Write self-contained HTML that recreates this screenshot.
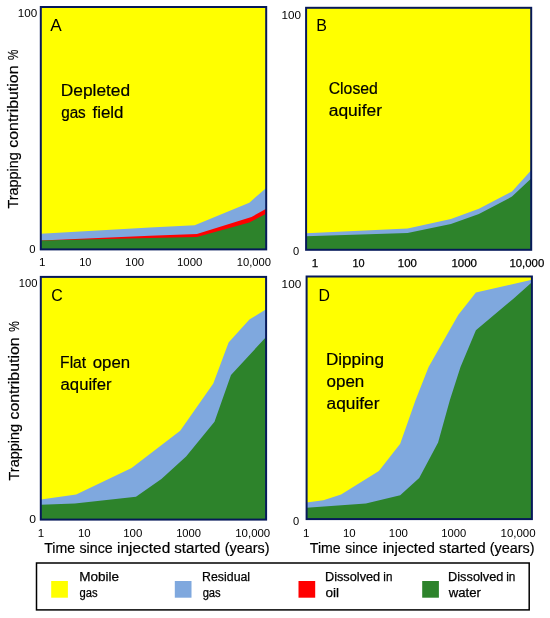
<!DOCTYPE html>
<html lang="en"><head><meta charset="utf-8"><title>Trapping contribution over time</title>
<style>
html,body{margin:0;padding:0;background:#fff;}
svg{display:block;}
text{font-family:"Liberation Sans",sans-serif;fill:#000;}
</style></head>
<body>
<svg width="550" height="618" viewBox="0 0 550 618">
<rect width="550" height="618" fill="#fff"/>
<rect x="40.8" y="7.0" width="225.4" height="242.4" fill="#ffff00"/>
<polygon points="40.8,249.4 40.8,233.7 150.0,227.6 194.7,225.2 249.3,202.7 266.2,188.0 266.2,249.4" fill="#7fa8de"/>
<polygon points="40.8,249.4 40.8,240.5 150.0,235.7 196.9,233.9 251.5,216.9 266.2,208.7 266.2,249.4" fill="#ff0000"/>
<polygon points="40.8,249.4 40.8,240.6 150.0,238.1 196.9,237.0 249.3,222.4 266.2,213.7 266.2,249.4" fill="#2d832b"/>
<rect x="40.8" y="7.0" width="225.4" height="242.4" fill="none" stroke="#07195a" stroke-width="2.0"/>
<rect x="306.1" y="7.8" width="225.1" height="242.0" fill="#ffff00"/>
<polygon points="306.1,249.8 306.1,233.3 407.6,228.4 450.9,218.9 478.9,208.7 512.0,191.4 531.2,170.2 531.2,249.8" fill="#7fa8de"/>
<polygon points="306.1,249.8 306.1,236.3 407.6,233.0 450.9,224.1 478.9,213.9 512.0,196.6 531.2,178.6 531.2,249.8" fill="#2d832b"/>
<rect x="306.1" y="7.8" width="225.1" height="242.0" fill="none" stroke="#07195a" stroke-width="2.0"/>
<rect x="40.8" y="276.9" width="225.3" height="242.7" fill="#ffff00"/>
<polygon points="40.8,519.6 40.8,499.4 76.2,494.5 131.6,468.1 180.2,430.7 213.3,383.4 228.6,342.5 249.4,319.5 266.1,309.2 266.1,519.6" fill="#7fa8de"/>
<polygon points="40.8,519.6 40.8,504.8 74.9,503.5 136.0,496.8 161.4,479.0 186.1,456.6 214.5,421.7 231.0,375.1 266.1,336.9 266.1,519.6" fill="#2d832b"/>
<rect x="40.8" y="276.9" width="225.3" height="242.7" fill="none" stroke="#07195a" stroke-width="2.0"/>
<rect x="306.6" y="276.5" width="225.3" height="242.6" fill="#ffff00"/>
<polygon points="306.6,519.1 306.6,502.6 323.4,500.3 341.1,494.5 378.9,470.9 400.2,443.7 415.6,400.0 428.6,366.9 458.2,314.9 475.9,292.5 531.9,279.8 531.9,519.1" fill="#7fa8de"/>
<polygon points="306.6,519.1 306.6,507.8 365.9,503.4 400.2,495.3 419.2,478.0 438.1,442.5 449.9,400.0 460.5,366.9 475.9,330.3 513.7,298.4 531.9,282.2 531.9,519.1" fill="#2d832b"/>
<rect x="306.6" y="276.5" width="225.3" height="242.6" fill="none" stroke="#07195a" stroke-width="2.0"/>
<text x="17.71" y="16.6" font-size="11.6" textLength="19.44" lengthAdjust="spacingAndGlyphs">100</text>
<text x="281.61" y="18.5" font-size="11.6" textLength="19.44" lengthAdjust="spacingAndGlyphs">100</text>
<text x="18.85" y="287.3" font-size="11.6" textLength="18.69" lengthAdjust="spacingAndGlyphs">100</text>
<text x="281.61" y="288.4" font-size="11.6" textLength="19.55" lengthAdjust="spacingAndGlyphs">100</text>
<text x="29.26" y="252.8" font-size="11.6" textLength="6.28" lengthAdjust="spacingAndGlyphs">0</text>
<text x="293.07" y="254.5" font-size="11.6" textLength="6.17" lengthAdjust="spacingAndGlyphs">0</text>
<text x="29.23" y="523.3" font-size="11.6" textLength="6.75" lengthAdjust="spacingAndGlyphs">0</text>
<text x="293.07" y="524.5" font-size="11.6" textLength="6.17" lengthAdjust="spacingAndGlyphs">0</text>
<text x="38.92" y="266.0" font-size="11.6">1</text>
<text x="79.27" y="266.0" font-size="11.6" textLength="12.16" lengthAdjust="spacingAndGlyphs">10</text>
<text x="125.03" y="266.0" font-size="11.6" textLength="19.12" lengthAdjust="spacingAndGlyphs">100</text>
<text x="176.93" y="266.0" font-size="11.6" textLength="25.42" lengthAdjust="spacingAndGlyphs">1000</text>
<text x="236.75" y="266.0" font-size="11.6" textLength="34.29" lengthAdjust="spacingAndGlyphs">10,000</text>
<text x="311.87" y="267.0" font-size="11.6" stroke="#000" stroke-width="0.25">1</text>
<text x="352.47" y="267.0" font-size="11.6" textLength="12.16" lengthAdjust="spacingAndGlyphs" stroke="#000" stroke-width="0.25">10</text>
<text x="397.83" y="267.0" font-size="11.6" textLength="19.01" lengthAdjust="spacingAndGlyphs" stroke="#000" stroke-width="0.25">100</text>
<text x="451.42" y="267.0" font-size="11.6" textLength="25.63" lengthAdjust="spacingAndGlyphs" stroke="#000" stroke-width="0.25">1000</text>
<text x="509.43" y="267.0" font-size="11.6" textLength="34.81" lengthAdjust="spacingAndGlyphs" stroke="#000" stroke-width="0.25">10,000</text>
<text x="37.87" y="536.7" font-size="11.6">1</text>
<text x="77.93" y="536.7" font-size="11.6" textLength="12.72" lengthAdjust="spacingAndGlyphs">10</text>
<text x="123.23" y="536.7" font-size="11.6" textLength="19.12" lengthAdjust="spacingAndGlyphs">100</text>
<text x="176.15" y="536.7" font-size="11.6" textLength="24.89" lengthAdjust="spacingAndGlyphs">1000</text>
<text x="235.23" y="536.7" font-size="11.6" textLength="35.02" lengthAdjust="spacingAndGlyphs">10,000</text>
<text x="302.97" y="537.2" font-size="11.6">1</text>
<text x="343.03" y="537.2" font-size="11.6" textLength="12.72" lengthAdjust="spacingAndGlyphs">10</text>
<text x="388.83" y="537.2" font-size="11.6" textLength="19.12" lengthAdjust="spacingAndGlyphs">100</text>
<text x="441.25" y="537.2" font-size="11.6" textLength="24.89" lengthAdjust="spacingAndGlyphs">1000</text>
<text x="500.53" y="537.2" font-size="11.6" textLength="35.12" lengthAdjust="spacingAndGlyphs">10,000</text>
<text y="552.5" font-size="15.4" stroke="#000" stroke-width="0.2"><tspan x="44.29" textLength="30.83" lengthAdjust="spacingAndGlyphs">Time</tspan> <tspan x="79.50" textLength="33.23" lengthAdjust="spacingAndGlyphs">since</tspan> <tspan x="117.07" textLength="53.23" lengthAdjust="spacingAndGlyphs">injected</tspan> <tspan x="174.28" textLength="46.19" lengthAdjust="spacingAndGlyphs">started</tspan> <tspan x="224.71" textLength="44.79" lengthAdjust="spacingAndGlyphs">(years)</tspan></text>
<text y="552.5" font-size="15.4" stroke="#000" stroke-width="0.2"><tspan x="309.79" textLength="30.93" lengthAdjust="spacingAndGlyphs">Time</tspan> <tspan x="345.31" textLength="32.51" lengthAdjust="spacingAndGlyphs">since</tspan> <tspan x="382.69" textLength="52.19" lengthAdjust="spacingAndGlyphs">injected</tspan> <tspan x="439.08" textLength="46.61" lengthAdjust="spacingAndGlyphs">started</tspan> <tspan x="489.71" textLength="44.79" lengthAdjust="spacingAndGlyphs">(years)</tspan></text>
<text y="18.2" font-size="15.4" transform="rotate(-90)" stroke="#000" stroke-width="0.2"><tspan x="-208.52" textLength="56.34" lengthAdjust="spacingAndGlyphs">Trapping</tspan> <tspan x="-147.78" textLength="82.31" lengthAdjust="spacingAndGlyphs">contribution</tspan> <tspan x="-60.02" textLength="10.44" lengthAdjust="spacingAndGlyphs">%</tspan></text>
<text y="18.6" font-size="15.4" transform="rotate(-90)" stroke="#000" stroke-width="0.2"><tspan x="-480.42" textLength="56.44" lengthAdjust="spacingAndGlyphs">Trapping</tspan> <tspan x="-419.58" textLength="82.31" lengthAdjust="spacingAndGlyphs">contribution</tspan> <tspan x="-331.82" textLength="10.55" lengthAdjust="spacingAndGlyphs">%</tspan></text>
<text x="50.27" y="31.4" font-size="15.8" textLength="11.47" lengthAdjust="spacingAndGlyphs">A</text>
<text x="316.29" y="31.2" font-size="15.8" textLength="10.65" lengthAdjust="spacingAndGlyphs">B</text>
<text x="51.19" y="300.6" font-size="15.8" textLength="11.52" lengthAdjust="spacingAndGlyphs">C</text>
<text x="318.40" y="300.9" font-size="15.8" textLength="11.46" lengthAdjust="spacingAndGlyphs">D</text>
<text x="60.78" y="95.6" font-size="16" textLength="69.34" lengthAdjust="spacingAndGlyphs" stroke="#000" stroke-width="0.2">Depleted</text>
<text y="117.5" font-size="16" stroke="#000" stroke-width="0.2"><tspan x="61.16" textLength="24.59" lengthAdjust="spacingAndGlyphs">gas</tspan> <tspan x="92.56" textLength="30.93" lengthAdjust="spacingAndGlyphs">field</tspan></text>
<text x="328.70" y="94.4" font-size="16" textLength="49.22" lengthAdjust="spacingAndGlyphs" stroke="#000" stroke-width="0.2">Closed</text>
<text x="328.76" y="116.3" font-size="16" textLength="53.23" lengthAdjust="spacingAndGlyphs" stroke="#000" stroke-width="0.2">aquifer</text>
<text y="367.8" font-size="16" stroke="#000" stroke-width="0.2"><tspan x="60.12" textLength="25.99" lengthAdjust="spacingAndGlyphs">Flat</tspan> <tspan x="92.69" textLength="37.40" lengthAdjust="spacingAndGlyphs">open</tspan></text>
<text x="60.59" y="389.6" font-size="16" textLength="50.99" lengthAdjust="spacingAndGlyphs" stroke="#000" stroke-width="0.2">aquifer</text>
<text x="325.90" y="364.7" font-size="16" textLength="58.01" lengthAdjust="spacingAndGlyphs" stroke="#000" stroke-width="0.2">Dipping</text>
<text x="326.59" y="386.9" font-size="16" textLength="37.71" lengthAdjust="spacingAndGlyphs" stroke="#000" stroke-width="0.2">open</text>
<text x="326.57" y="408.7" font-size="16" textLength="52.82" lengthAdjust="spacingAndGlyphs" stroke="#000" stroke-width="0.2">aquifer</text>
<rect x="36.5" y="563" width="492.7" height="46.9" fill="#fff" stroke="#000" stroke-width="1.5"/>
<rect x="51.2" y="581" width="16.7" height="16.7" fill="#ffff00"/>
<rect x="174.8" y="581" width="16.7" height="16.7" fill="#7fa8de"/>
<rect x="298.5" y="581" width="16.7" height="16.7" fill="#ff0000"/>
<rect x="422.2" y="581" width="16.7" height="16.7" fill="#2d832b"/>
<text x="79.19" y="581" font-size="12.5" textLength="39.81" lengthAdjust="spacingAndGlyphs" stroke="#000" stroke-width="0.25">Mobile</text>
<text x="79.53" y="597" font-size="12.5" textLength="18.08" lengthAdjust="spacingAndGlyphs" stroke="#000" stroke-width="0.25">gas</text>
<text x="202.09" y="581" font-size="12.5" textLength="48.04" lengthAdjust="spacingAndGlyphs" stroke="#000" stroke-width="0.25">Residual</text>
<text x="202.63" y="597" font-size="12.5" textLength="18.08" lengthAdjust="spacingAndGlyphs" stroke="#000" stroke-width="0.25">gas</text>
<text y="581" font-size="12.5" stroke="#000" stroke-width="0.25"><tspan x="324.95" textLength="55.27" lengthAdjust="spacingAndGlyphs">Dissolved</tspan> <tspan x="383.32" textLength="9.03" lengthAdjust="spacingAndGlyphs">in</tspan></text>
<text x="325.43" y="597" font-size="12.5" textLength="13.58" lengthAdjust="spacingAndGlyphs" stroke="#000" stroke-width="0.25">oil</text>
<text y="581" font-size="12.5" stroke="#000" stroke-width="0.25"><tspan x="448.05" textLength="55.37" lengthAdjust="spacingAndGlyphs">Dissolved</tspan> <tspan x="506.21" textLength="9.15" lengthAdjust="spacingAndGlyphs">in</tspan></text>
<text x="448.72" y="597" font-size="12.5" textLength="32.20" lengthAdjust="spacingAndGlyphs" stroke="#000" stroke-width="0.25">water</text>
</svg>
</body></html>
